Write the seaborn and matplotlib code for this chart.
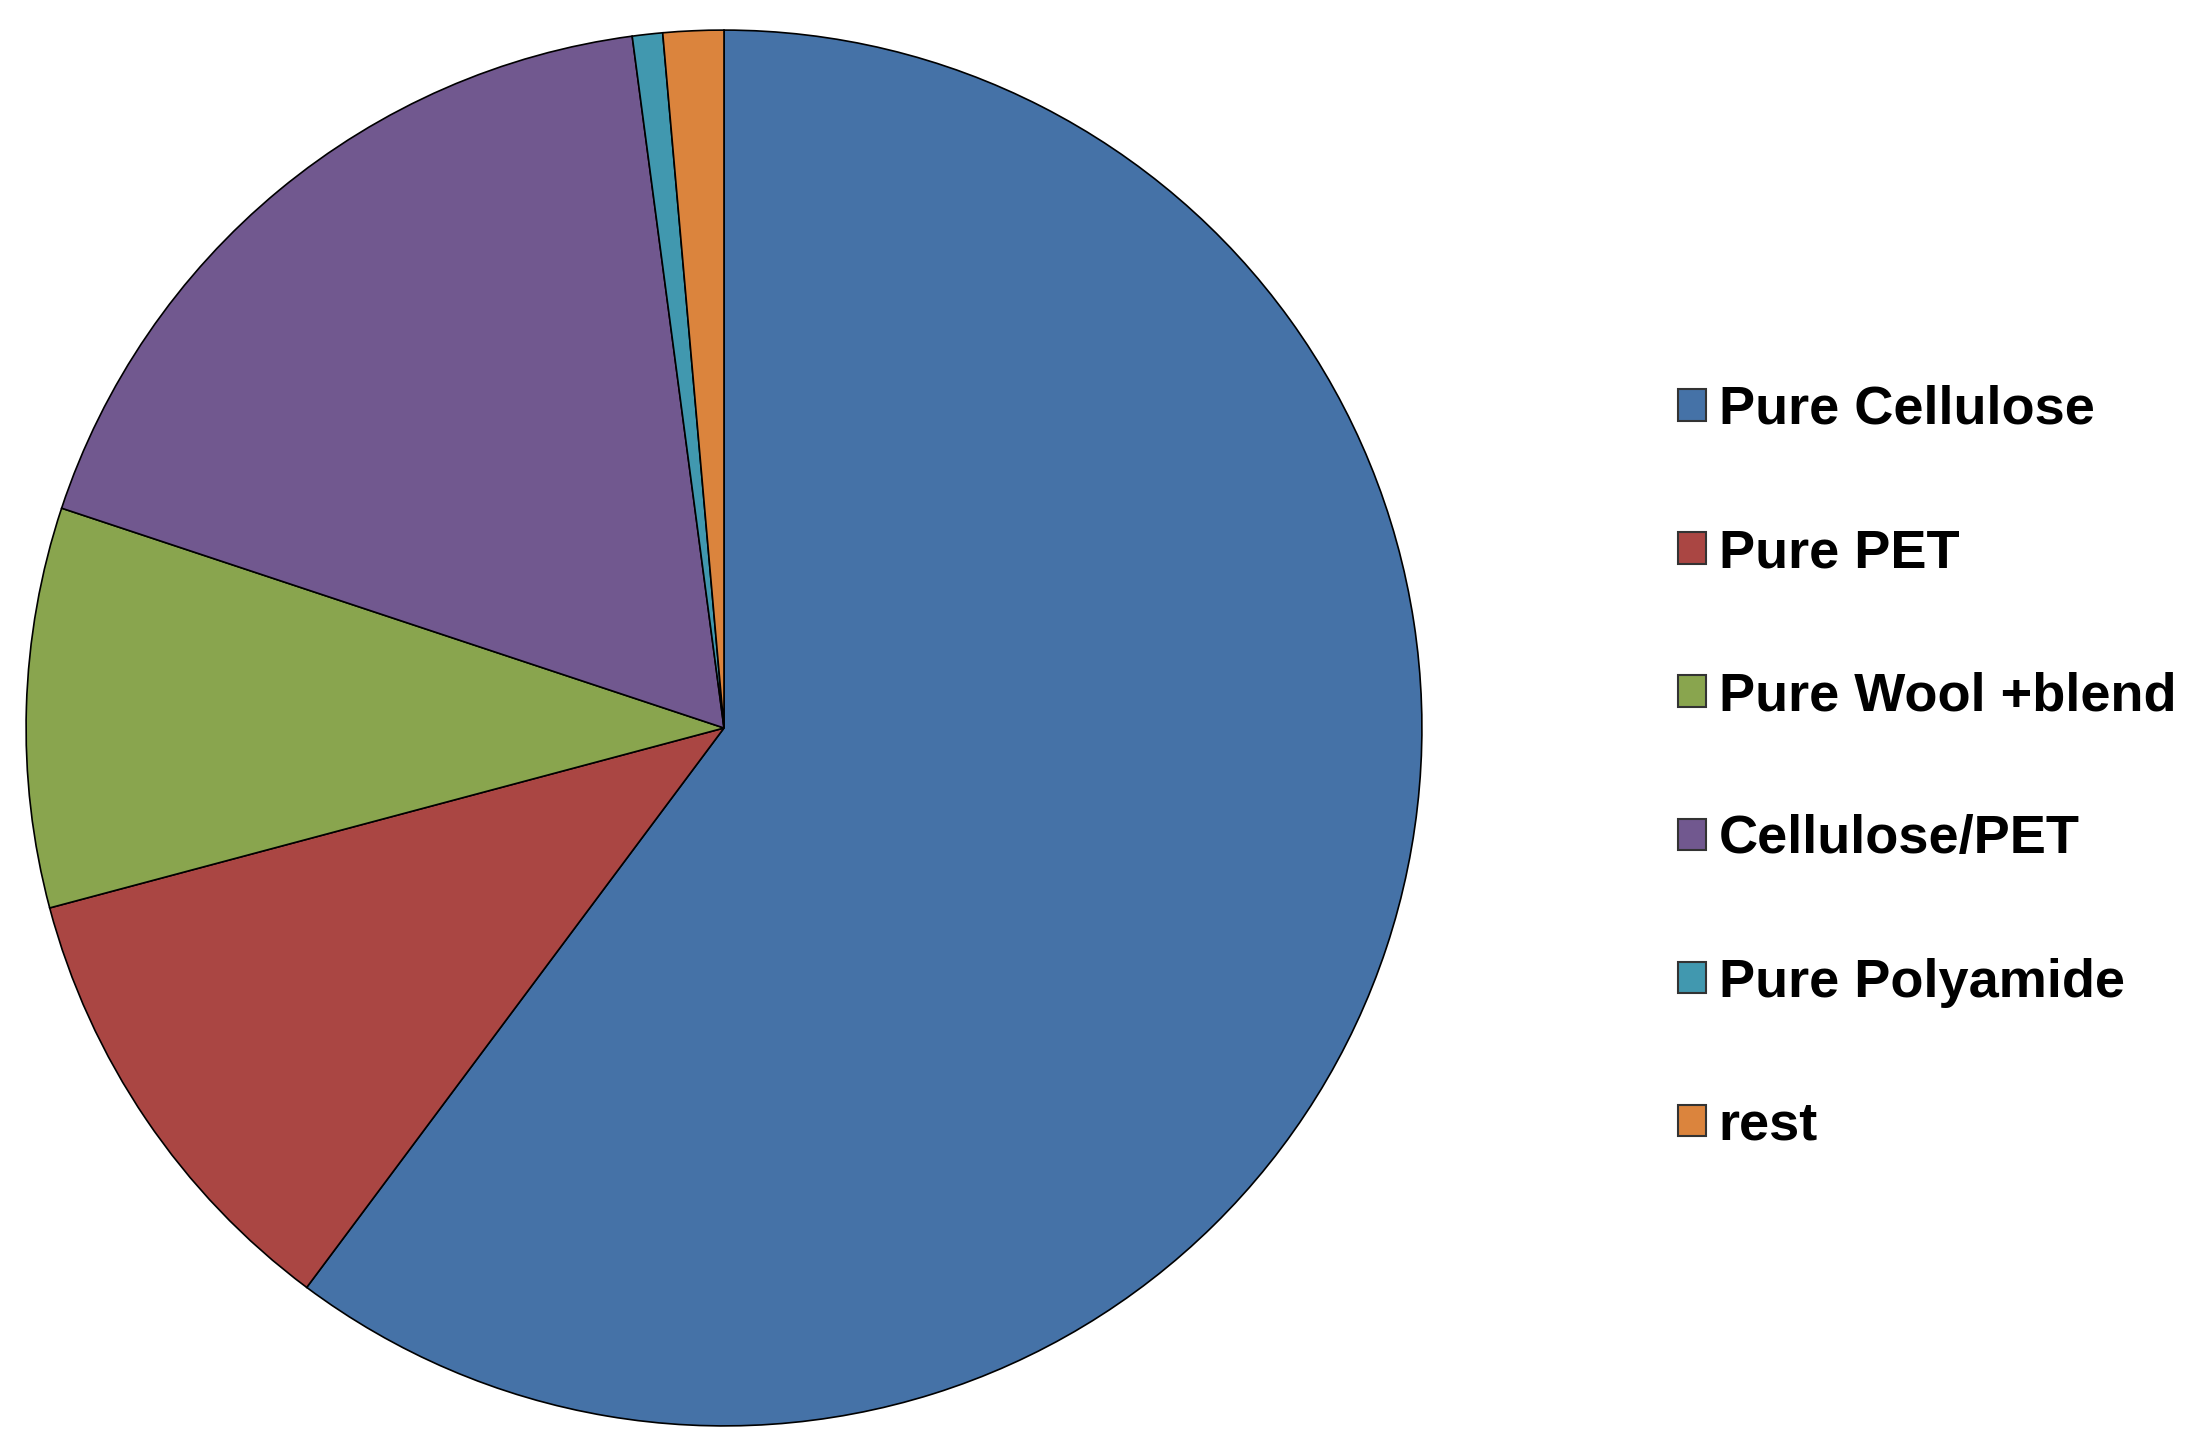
import matplotlib
matplotlib.use("Agg")
import matplotlib.pyplot as plt
import seaborn as sns
from matplotlib.patches import Patch

categories = ["Pure Cellulose", "Pure PET", "Pure Wool +blend", "Cellulose/PET", "Pure Polyamide", "rest"]
values = [60.2, 10.65, 9.25, 17.8, 0.7, 1.4]
colors = ["#4572A7", "#AA4643", "#89A54E", "#71588F", "#4198AF", "#DB843D"]

sns.set_theme(style="white")
plt.rcParams['font.family'] = ['Liberation Sans', 'DejaVu Sans']
plt.rcParams['text.color'] = 'black'

fig = plt.figure(figsize=(22.06, 14.48), dpi=100)
W, H = 2206, 1448
cx, cy, r = 724, 728, 700
ax = fig.add_axes([(cx - r) / W, (H - cy - r) / H, 2 * r / W, 2 * r / H])
ax.pie(values, colors=colors, startangle=90, counterclock=False, radius=1,
       wedgeprops=dict(edgecolor="black", linewidth=1.2))
ax.set_xlim(-1.003, 1.003)
ax.set_ylim(-1.003, 1.003)
ax.set_aspect("equal")
ax.axis("off")

handles = [Patch(facecolor=c, edgecolor="#333333", linewidth=1.5) for c in colors]
leg = fig.legend(handles, categories, loc="upper left",
                 bbox_to_anchor=(1678 / W, 1 - 385 / H),
                 frameon=False, prop=dict(family="Liberation Sans", weight="bold", size=39),
                 handlelength=0.52, handleheight=0.52, handletextpad=0.23,
                 labelspacing=1.72, borderpad=0, borderaxespad=0)
for t in leg.get_texts():
    t.set_color("black")

fig.savefig("out.png", dpi=100, facecolor="white")
